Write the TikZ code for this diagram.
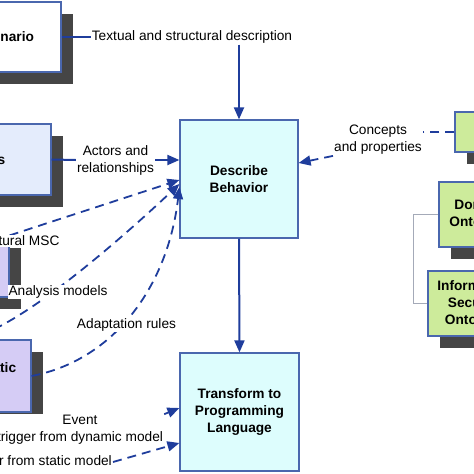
\documentclass[tikz,border=0pt]{standalone}
\usepackage{fontspec}
\setmainfont{Liberation Sans}
\usepackage{tikz}
\usetikzlibrary{arrows.meta,shadows}
\definecolor{FlowBlue}{HTML}{1F3D9C}
\definecolor{FlowEdge}{HTML}{4A67AE}
\definecolor{FlowCyan}{HTML}{DDFDFD}
\definecolor{FlowPale}{HTML}{E4ECFC}
\definecolor{FlowLilac}{HTML}{D5CCF5}
\definecolor{FlowLime}{HTML}{CDEB9B}
\definecolor{FlowShade}{HTML}{454545}
\definecolor{FlowTree}{HTML}{A4AAB8}

\begin{document}
\begin{tikzpicture}[x=1pt,y=-1pt,>={Triangle[length=12pt,width=10pt]},
  every node/.style={font=\fontsize{13.7}{17}\selectfont},
  plainbox/.style={draw=FlowEdge,line width=1.2pt,align=center,inner sep=0pt,
    font=\fontsize{13.7}{17}\selectfont\bfseries},
  box/.style={plainbox,
    drop shadow={shadow xshift=12pt,shadow yshift=-12pt,fill=FlowShade,opacity=1}},
  lbl/.style={fill=white,align=center,inner sep=1pt},
  flow/.style={FlowBlue,line width=2pt},
  dflow/.style={FlowBlue,line width=1.8pt,dash pattern=on 9pt off 6pt}]
  \useasboundingbox (0,0) rectangle (474,474);
  \clip (0,0) rectangle (474,474);
  % boxes on the left
  \node[box,fill=white,minimum width=112pt,minimum height=70pt] (scenbox) at (5,37) {Scenario};
  \node[box,fill=FlowPale,minimum width=161pt,minimum height=71pt] (usebox) at (-29.5,159.5) {Use Cases};
  \node[box,fill=FlowLilac,minimum width=80pt,minimum height=61pt] (strbox) at (-31,266.5) {};
  \node[box,fill=FlowLilac,minimum width=59pt,minimum height=72pt,
    label={[font=\fontsize{13.7}{17}\selectfont\bfseries,xshift=-4pt,yshift=8pt]center:Static}] (statbox) at (1.5,376) {};
  % main steps
  \node[plainbox,fill=FlowCyan,minimum width=118pt,minimum height=118pt] (descr) at (239,179) {Describe\\Behavior};
  \node[plainbox,fill=FlowCyan,minimum width=119pt,minimum height=118pt] (transf) at (239.5,412) {Transform to\\Programming\\Language};
  % ontologies
  \node[box,fill=FlowLime,minimum width=90pt,minimum height=40pt] (ontbox) at (500,132) {};
  \node[box,fill=FlowLime,minimum width=81pt,minimum height=65pt] (dombox) at (479.5,214.5) {Domain\\Ontology};
  \node[box,fill=FlowLime,minimum width=94pt,minimum height=65pt] (isobox) at (475,303.5) {Information\\Security\\Ontology};
  \draw[FlowTree,line width=1.2pt] (dombox.west) -- ++(-25,0) |- (isobox.west);
  % dashed inputs under the labels
  \coordinate (anaend) at (-20,335);
  \draw[dflow,->] (strbox.north east) -- ([yshift=-1pt]descr.west);
  \draw[dflow,->] (anaend) .. controls (30,318) and (120,240) .. ([yshift=-5pt]descr.west);
  \draw[dflow,->] (statbox.east) .. controls (115,360) and (168,285) .. ([yshift=-8pt]descr.west);
  % labels
  \node[lbl] (scenlbl) at (192,37) {Textual and structural description};
  \node[lbl] (actlbl) at (115.5,160) {Actors and\\relationships};
  \node[lbl] (conlbl) at (378,140) {Concepts\\and properties};
  \node[lbl] (msclbl) at (13,241) {Structural MSC};
  \node[lbl] (analbl) at (58,292) {Analysis models};
  \node[lbl] (adalbl) at (126.5,325) {Adaptation rules};
  \node[lbl] (evlbl) at (80,430) {Event\\trigger from dynamic model};
  \node[lbl,anchor=east] (stlbl) at (113,462) {Event trigger from static model};
  % connectors
  \draw[flow] (scenbox.east) -- (scenlbl.west);
  \draw[flow,->] (scenlbl.south -| descr.north) -- (descr.north);
  \draw[flow] (usebox.east) -- (actlbl.west);
  \draw[flow,->] (actlbl.east) -- (actlbl.east -| descr.west);
  \draw[flow,->] (descr.south) -- (transf.north);
  \draw[dflow] (ontbox.west) -- (ontbox.west -| conlbl.east);
  \draw[dflow,->] (conlbl.south west) -- ([yshift=16pt]descr.east);
  \draw[dflow,->] (evlbl.north east) -- ([yshift=4pt]transf.west);
  \draw[dflow,->] (stlbl.east) -- ([yshift=-31pt]transf.west);
\end{tikzpicture}
\end{document}
